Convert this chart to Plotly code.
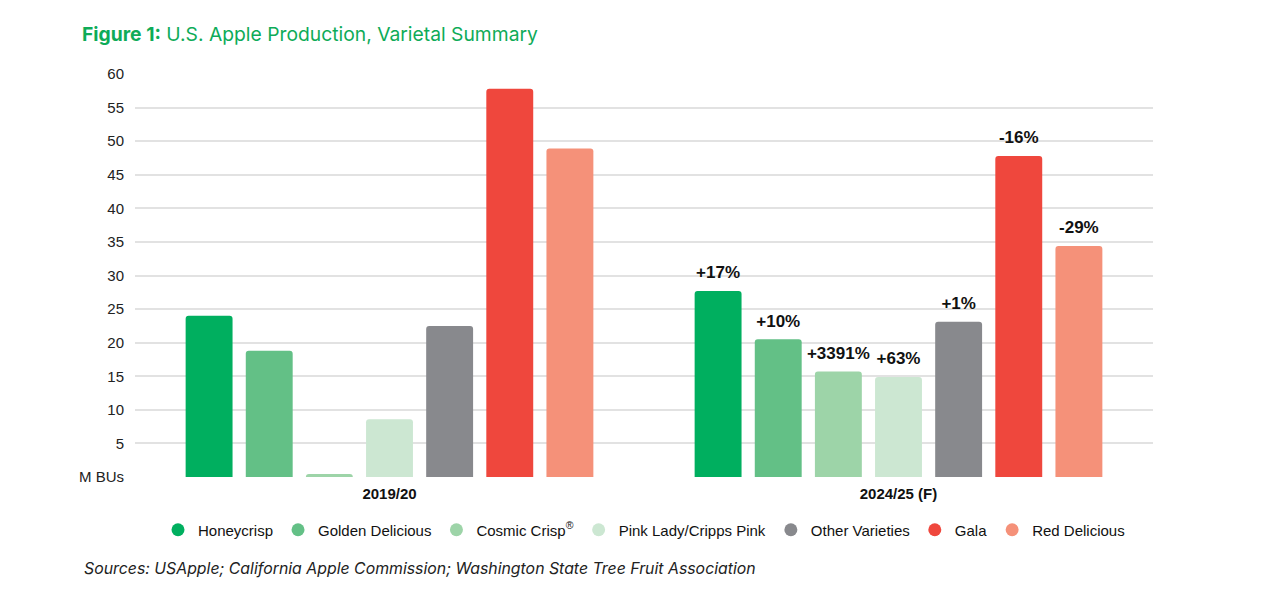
import plotly.graph_objects as go

categories = ["2019/20", "2024/25 (F)"]
varieties = ["Honeycrisp", "Golden Delicious", "Cosmic Crisp<sup>®</sup>",
             "Pink Lady/Cripps Pink", "Other Varieties", "Gala", "Red Delicious"]
values_2019 = [24.0, 18.8, 0.45, 8.6, 22.5, 57.8, 48.9]
values_2024 = [27.7, 20.5, 15.7, 14.9, 23.1, 47.8, 34.4]
change_labels = ["+17%", "+10%", "+3391%", "+63%", "+1%", "-16%", "-29%"]
colors = ["#00af5f", "#63c086", "#9dd4a8", "#cce7d2", "#88898d", "#ef473d", "#f59179"]
tick_vals = [0, 5, 10, 15, 20, 25, 30, 35, 40, 45, 50, 55, 60]
tick_text = ["M BUs", "5", "10", "15", "20", "25", "30", "35", "40", "45", "50", "55", "60"]

SANS = "Liberation Sans, Arial, sans-serif"
GEO = "Inter, Lato, sans-serif"

fig = go.Figure()
for i, (name, v19, v24, col) in enumerate(zip(varieties, values_2019, values_2024, colors)):
    fig.add_trace(go.Bar(
        x=categories, y=[v19, v24], name=name, offsetgroup=str(i),
        marker=dict(color=col, cornerradius=3, line=dict(width=0)),
        showlegend=False, hoverinfo="x+y+name",
    ))
# change labels above the 2024/25 bars, aligned with the bar groups
for i, (name, v24, lab) in enumerate(zip(varieties, values_2024, change_labels)):
    fig.add_trace(go.Scatter(
        x=categories, y=[None, v24], offsetgroup=str(i), mode="markers+text",
        text=["", lab], textposition="top center",
        textfont=dict(family=SANS, size=17, color="#111111", weight="bold"),
        marker=dict(size=12, color="rgba(0,0,0,0)"),
        cliponaxis=False, showlegend=False, hoverinfo="skip",
    ))
# legend entries (circle symbols) on a hidden overlay axis
for name, col in zip(varieties, colors):
    fig.add_trace(go.Scatter(
        x=[None], y=[None], mode="markers", name=name, xaxis="x2",
        marker=dict(color=col, size=13, symbol="circle"),
        showlegend=True,
    ))

fig.update_layout(
    width=1277, height=599,
    margin=dict(l=135, r=124, t=74, b=122),
    paper_bgcolor="white", plot_bgcolor="white",
    barmode="group", bargap=0.173, bargroupgap=0.22,
    scattermode="group", scattergap=0.173,
    xaxis2=dict(overlaying="x", visible=False, showgrid=False),
    title=dict(
        text="<b>Figure 1:</b> U.S. Apple Production, Varietal Summary",
        font=dict(family=GEO, size=19.3, color="#0eab58"),
        xref="container", yref="container", x=82 / 1277, y=1 - 34 / 599,
        xanchor="left", yanchor="middle",
    ),
    legend=dict(
        orientation="h", x=0.5, xanchor="center", y=-53 / 403, yanchor="middle",
        font=dict(family=SANS, size=15, color="#111111"),
        itemwidth=30, bgcolor="rgba(0,0,0,0)",
    ),
    annotations=[dict(
        text="<i>Sources: USApple; California Apple Commission; Washington State Tree Fruit Association</i>",
        xref="paper", yref="paper", x=-53 / 1018, y=-91 / 403,
        xanchor="left", yanchor="middle", showarrow=False,
        font=dict(family=GEO, size=15.85, color="#222222"),
    )],
)
fig.update_yaxes(
    range=[0, 60], tickvals=tick_vals, ticktext=tick_text,
    showgrid=True, gridcolor="#e2e2e2", gridwidth=2,
    zeroline=False, showline=False, ticks="",
    ticklabelstandoff=10,
    tickfont=dict(family=SANS, size=15, color="#222222"),
)
fig.update_xaxes(
    showgrid=False, showline=False, ticks="", ticklabelstandoff=6,
    tickfont=dict(family=SANS, size=15, color="#111111", weight="bold"),
)

fig.write_html("out.html")
